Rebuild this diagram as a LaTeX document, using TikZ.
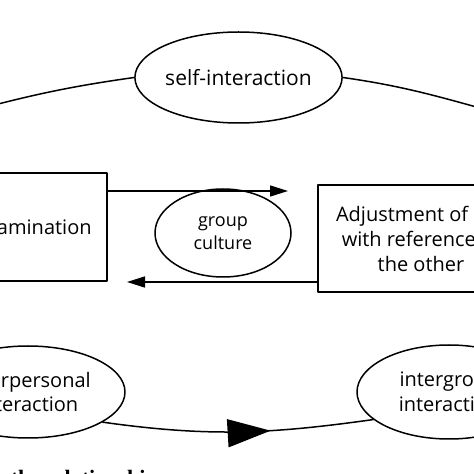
\documentclass[tikz,border=0pt]{standalone}
\usepackage{fontspec}
\setmainfont{Open Sans}
\newfontfamily\capfont{Liberation Serif}
\usetikzlibrary{shapes.geometric}
\usetikzlibrary{arrows.meta}
\usetikzlibrary{decorations.markings}

\begin{document}
\begin{tikzpicture}[line cap=round,line join=round,>={Triangle[length=18pt,width=11pt]},x=1pt,y=1pt, line width=1.5pt,
    bub/.style={ellipse, draw, inner sep=0pt, align=center, font=\fontsize{20}{25}\selectfont},
    box/.style={rectangle, draw, inner sep=0pt, align=center, font=\fontsize{20}{25}\selectfont},
    bigtip/.style={decoration={markings, mark=at position 0.62 with {\arrow{Triangle[length=43pt,width=28pt]}}}, postaction={decorate}}]
                    \useasboundingbox (0,0) rectangle (474,474);
                    \clip (0,0) rectangle (474,474);

                    \node[bub, minimum width=193pt, minimum height=91pt, font=\fontsize{21}{25}\selectfont] (self) at (238.5,396.5) {self-interaction};
                    \node[bub, minimum width=136pt, minimum height=88pt, font=\fontsize{18}{22.6}\selectfont] (culture) at (223,241) {group\\culture};
                    \node[bub, minimum width=194pt, minimum height=92pt] (pers) at (28,82) {interpersonal\\interaction};
                    \node[bub, minimum width=184pt, minimum height=94pt] (grp) at (449,82) {intergroup\\interaction};

                    \node[box, minimum width=147pt, minimum height=108pt] (exam) at (33.5,247) {Examination};
                    \node[box, minimum width=206pt, minimum height=107pt] (adj) at (421,235.5) {Adjustment of self\\with reference to\\the other};

                    \coordinate (topTip) at (288,283);
                    \coordinate (botTip) at (127,192);
                    \draw [->] (exam.east |- topTip) -- (topTip);
                    \draw [->] (adj.west |- botTip) -- (botTip);

                    \coordinate (loopL) at (-40,360);
                    \coordinate (loopR) at (520,355);
                    \draw (self.west) to[out=188, in=15] (loopL);
                    \draw (self.east) to[out=-8, in=165] (loopR);
                    \draw [bigtip] (pers.-22) to[out=-8, in=188] (grp.200);

                    \node[anchor=base west, inner sep=0pt, font=\capfont\bfseries\fontsize{22}{26}\selectfont] (cap) at (10,-11) {the relationship};
                \end{tikzpicture}
\end{document}
